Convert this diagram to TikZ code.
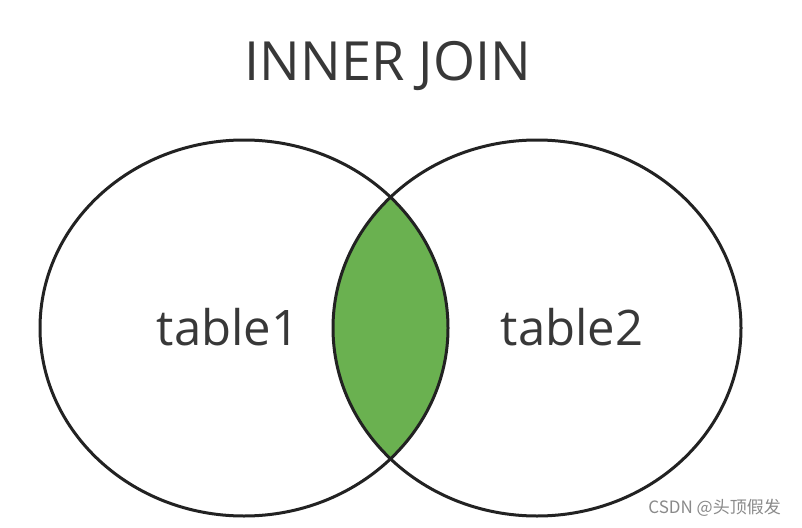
\documentclass[tikz,border=0pt]{standalone}
\usepackage{fontspec}
\setmainfont{Open Sans}
\newfontfamily\cjk{Noto Sans CJK SC}
\usetikzlibrary{positioning}
\definecolor{joinGreen}{HTML}{6AB150}
\definecolor{inkGray}{HTML}{222222}
\definecolor{markGray}{HTML}{8A8A8A}
\tikzset{
  setline/.style={draw=inkGray, line width=3pt},
  setlabel/.style={font=\fontsize{49}{49}\selectfont, text=inkGray!90, inner sep=0pt, anchor=base},
  jtitle/.style={font=\fontsize{54}{54}\selectfont, text=inkGray!90, inner sep=0pt, anchor=base},
}

\begin{document}
\begin{tikzpicture}[x=1pt, y=-1pt,
    wmark/.style={font=\cjk\fontsize{17}{17}\selectfont, text=markGray, inner sep=0pt, anchor=base east}
]
  \useasboundingbox (0,0) rectangle (802,527);
  \fill[white] (0,0) rectangle (802,527);

  \coordinate (left) at (244,328);
  \coordinate (right) at (537,328);

  % overlap of the two sets
  \begin{scope}
    \clip (left) ellipse [x radius=204, y radius=188];
    \fill[joinGreen] (right) ellipse [x radius=204, y radius=188];
  \end{scope}
  \draw[setline] (left) ellipse [x radius=204, y radius=188];
  \draw[setline] (right) ellipse [x radius=204, y radius=188];

  \node[jtitle] (title) at (388,80) {INNER JOIN};
  \node[setlabel] (tab1) at (228,345) {table1};
  \node[setlabel] (tab2) at (572,345) {table2};
  \node[wmark] (mark) at (781,513) {CSDN @头顶假发};
\end{tikzpicture}
\end{document}
